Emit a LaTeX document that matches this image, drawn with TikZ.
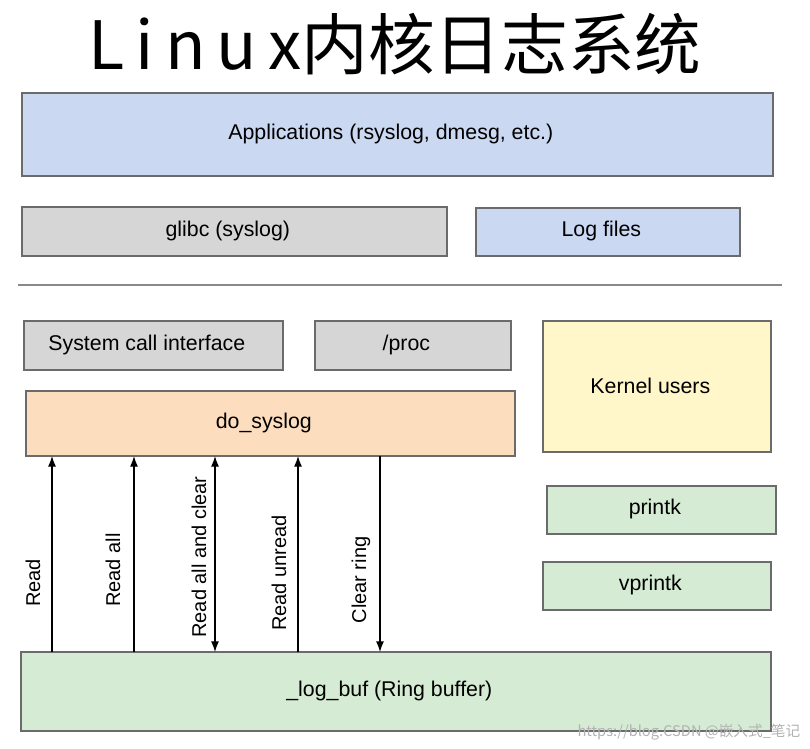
\documentclass[tikz,border=0pt]{standalone}
\usepackage{fontspec}
\setmainfont{Liberation Sans}
\newfontfamily\cjk{Noto Sans CJK SC}
\usetikzlibrary{arrows.meta}
\definecolor{cblue}{HTML}{CAD8F2}
\definecolor{cgray}{HTML}{D6D6D6}
\definecolor{cyel}{HTML}{FFF6C9}
\definecolor{corg}{HTML}{FCDDBD}
\definecolor{cgrn}{HTML}{D5EBD3}
\definecolor{cedge}{HTML}{6B6B6B}
\begin{document}
\begin{tikzpicture}[x=0.75pt,y=-0.75pt,
  box/.style={draw=cedge,line width=1.2pt,font=\fontsize{16}{18}\selectfont},
  tx/.style={xshift=-5pt,yshift=0.7pt},
  arr/.style={-{Latex[length=8pt,width=6pt]},line width=0.9pt},
  lab/.style={rotate=90,font=\fontsize{15}{16}\selectfont,anchor=center}]
\useasboundingbox (0,0) rectangle (810,749);
\node[font=\cjk\fontsize{50}{56}\selectfont] (title) at (395,44) {L\,i\,n\,u\,x内核日志系统};
\draw[box,fill=cblue] (22,93) rectangle (773,176) node[midway,tx] (app) {Applications (rsyslog, dmesg, etc.)};
\draw[box,fill=cgray] (22,207) rectangle (447,256) node[midway,tx] (glibc) {glibc (syslog)};
\draw[box,fill=cblue] (476,208) rectangle (740,256) node[midway,tx] (logf) {Log files};
\draw[cedge!80,line width=2pt] (18,285) -- (782,285);
\draw[box,fill=cgray] (24,321) rectangle (283,370) node[midway,tx] (sci) {System call interface};
\draw[box,fill=cgray] (315,321) rectangle (511,370) node[midway,tx] (proc) {/proc};
\draw[box,fill=cyel] (543,321) rectangle (771,452) node[midway,tx] (ku) {Kernel users};
\draw[box,fill=corg] (26,391) rectangle (515,456) node[midway,tx] (dos) {do\_syslog};
\draw[box,fill=cgrn] (547,486) rectangle (776,534) node[midway,tx] (pk) {printk};
\draw[box,fill=cgrn] (543,562) rectangle (771,610) node[midway,tx] (vpk) {vprintk};
\draw[box,fill=cgrn] (21,652) rectangle (771,731) node[midway,tx] (lb) {\_log\_buf (Ring buffer)};
\coordinate (t1) at (52,456); \coordinate (b1) at (52,652);
\coordinate (t2) at (134,456); \coordinate (b2) at (134,652);
\coordinate (t3) at (215,456); \coordinate (b3) at (215,652);
\coordinate (t4) at (298,456); \coordinate (b4) at (298,652);
\coordinate (t5) at (380,456); \coordinate (b5) at (380,652);
\draw[arr] (b1) -- (t1);
\draw[arr] (b2) -- (t2);
\draw[arr,{Latex[length=8pt,width=6pt]}-{Latex[length=8pt,width=6pt]}] (b3) -- (t3);
\draw[arr] (b4) -- (t4);
\draw[arr] (t5) -- (b5);
\node[lab] (l1) at (33,583) {Read};
\node[lab] (l2) at (113,570) {Read all};
\node[lab] (l3) at (199,557) {Read all and clear};
\node[lab] (l4) at (279,573) {Read unread};
\node[lab] (l5) at (361,580) {Clear ring};
\node[font=\cjk\fontsize{11}{12}\selectfont,text=gray!60,anchor=east] (wm) at (805,732) {https://blog.CSDN @嵌入式\_笔记};
\end{tikzpicture}
\end{document}
